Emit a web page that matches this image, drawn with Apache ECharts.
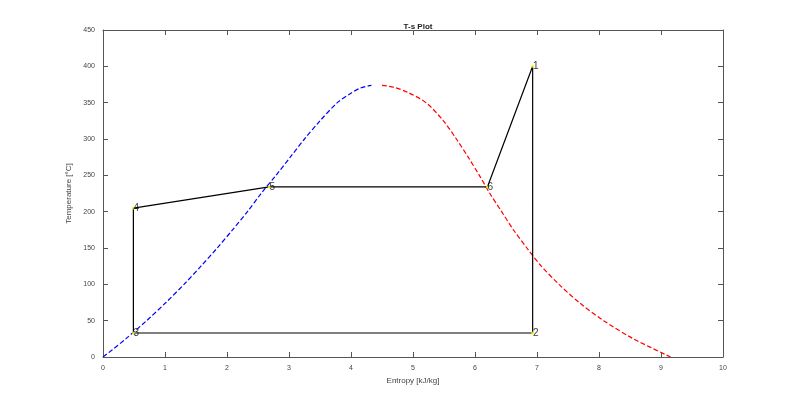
<!DOCTYPE html><html><head><meta charset="utf-8"><script src="https://cdn.jsdelivr.net/npm/echarts@6/dist/echarts.min.js"></script></head><body style="margin:0"><div id="c" style="width:800px;height:401px"></div><script>
const liqS=[0,0.151,0.367,0.704,1.015,1.307,1.58,1.842,2.09,2.33,2.55,2.79,3.02,3.25,3.50,3.78,3.98,4.15,4.33];
const liqT=[0,10,25,50,75,100,125,150,175,200,225,250,275,300,325,350,362,370,373.9];
const vapS=[4.5,4.7,4.92,5.21,5.49,5.70,5.89,6.07,6.24,6.43,6.62,6.837,7.07,7.354,7.68,8.075,8.557,9.155];
const vapT=[373.9,371,364,350,325,300,275,250,225,200,175,150,125,100,75,50,25,0.01];
const cycS=[6.93,6.93,0.49,0.49,2.68,6.2,6.93];
const cycT=[400,33,33,205,234,234,400];
const ptLabels=['1','2','3','4','5','6'];
const ptS=[6.93,6.93,0.49,0.49,2.68,6.2];
const ptT=[400,33,33,205,234,234];
const z=(a,b)=>a.map((v,i)=>[v,b[i]]);
const line={show:true,onZero:false,lineStyle:{color:'#555'}};
const tick={show:true,inside:true,length:5,lineStyle:{color:'#555'}};
const ax={axisLine:line,axisTick:tick,axisLabel:{fontSize:7,color:'#444'},splitLine:{show:false},nameLocation:'middle',nameTextStyle:{fontSize:8,color:'#444'}};
echarts.init(document.getElementById('c')).setOption({
title:{text:'T-s Plot',left:413,top:18,textAlign:'center',textStyle:{fontSize:8,fontWeight:'bold',color:'#222'}},
grid:{left:103,right:77,top:30,bottom:44},
xAxis:[Object.assign({type:'value',min:0,max:10,interval:1,name:'Entropy [kJ/kg]',nameGap:14},ax),{type:'value',min:0,max:10,interval:1,position:'top',axisLine:line,axisTick:tick,axisLabel:{show:false},splitLine:{show:false}}],
yAxis:[Object.assign({type:'value',min:0,max:450,interval:50,name:'Temperature [°C]',nameGap:18},ax),{type:'value',min:0,max:450,interval:50,position:'right',axisLine:line,axisTick:tick,axisLabel:{show:false},splitLine:{show:false}}],
series:[
{type:'line',data:z(liqS,liqT),smooth:0.3,showSymbol:false,lineStyle:{color:'#0000ff',type:'dashed',width:1.2}},
{type:'line',data:z(vapS,vapT),smooth:0.3,showSymbol:false,lineStyle:{color:'#ff0000',type:'dashed',width:1.2}},
{type:'line',data:z(cycS,cycT),showSymbol:false,lineStyle:{color:'#000',width:1.2}},
{type:'line',xAxisIndex:1,yAxisIndex:1,data:[],showSymbol:false},
{type:'scatter',data:ptS.map((s,i)=>({value:[s,ptT[i]],label:{formatter:ptLabels[i]}})),symbolSize:3,itemStyle:{color:'#ffff00'},label:{show:true,position:'inside',offset:[3,0],fontSize:10,color:'#000'},z:5}
]});
</script></body></html>
